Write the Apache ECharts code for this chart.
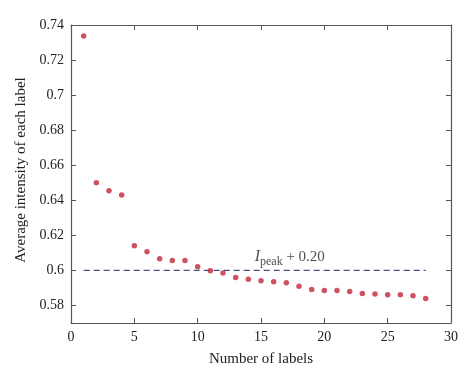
<!DOCTYPE html>
<html><head><meta charset="utf-8">
<script src="https://cdn.jsdelivr.net/npm/echarts@6/dist/echarts.min.js"></script>
<style>html,body{margin:0;padding:0;background:#fff}#c{width:474px;height:385px}</style>
</head><body><div id="c"></div>
<script>
const xLabels = [1,2,3,4,5,6,7,8,9,10,11,12,13,14,15,16,17,18,19,20,21,22,23,24,25,26,27,28];
const intensity = [0.7337,0.6500,0.6455,0.6430,0.6141,0.6107,0.6067,0.6057,0.6057,0.6021,0.5998,0.5985,0.5960,0.5950,0.5941,0.5935,0.5930,0.5910,0.5891,0.5886,0.5886,0.5880,0.5869,0.5865,0.5861,0.5861,0.5855,0.5840];
const thresholdX = [1, 28];
const thresholdY = 0.60;
const yTicks = [0.58,0.60,0.62,0.64,0.66,0.68,0.70,0.72,0.74];
const xTicks = [0,5,10,15,20,25,30];
const annotation = {x: 14.5, y: 0.6086, text: '+ 0.20'};

const font = '"Liberation Serif", "DejaVu Serif", serif';
const axisCol = '#555';
const txtCol = '#222';

const chart = echarts.init(document.getElementById('c'));
const common = {
  axisLine: {show: true, onZero: false, lineStyle: {color: axisCol, width: 1.2}},
  splitLine: {show: false}
};
chart.setOption({
  animation: false,
  backgroundColor: '#fff',
  grid: {left: 71, right: 23, top: 25, bottom: 62, outerBoundsMode: 'none', containLabel: false},
  xAxis: [
    Object.assign({
      type: 'value', min: xTicks[0], max: xTicks[xTicks.length-1], interval: 5,
      name: 'Number of labels', nameLocation: 'middle', nameGap: 29,
      nameTextStyle: {fontFamily: font, fontSize: 15, color: txtCol},
      axisTick: {show: true, inside: true, length: 5, lineStyle: {color: axisCol}},
      axisLabel: {fontFamily: font, fontSize: 14, color: txtCol, margin: 7}
    }, common),
    Object.assign({
      type: 'value', position: 'top', min: xTicks[0], max: xTicks[xTicks.length-1], interval: 5,
      axisTick: {show: true, inside: true, length: 5, lineStyle: {color: axisCol}},
      axisLabel: {show: false}
    }, common)
  ],
  yAxis: [
    Object.assign({
      type: 'value', min: 0.57, max: 0.74,
      name: 'Average intensity of each label', nameLocation: 'middle', nameGap: 31,
      nameTextStyle: {fontFamily: font, fontSize: 15, color: txtCol, padding: [0,0,0,8]},
      axisTick: {show: true, inside: true, length: 5, customValues: yTicks, lineStyle: {color: axisCol}},
      axisLabel: {fontFamily: font, fontSize: 14, color: txtCol, margin: 7, customValues: yTicks,
        formatter: v => String(+v.toFixed(2))}
    }, common),
    Object.assign({
      type: 'value', position: 'right', min: 0.57, max: 0.74,
      axisTick: {show: true, inside: true, length: 5, customValues: yTicks, lineStyle: {color: axisCol}},
      axisLabel: {show: false}
    }, common)
  ],
  series: [
    {
      type: 'line', data: thresholdX.map(x => [x, thresholdY]), symbol: 'none',
      lineStyle: {color: '#4a4f86', width: 1.3, type: [6, 4]}, silent: true, z: 2
    },
    {
      type: 'scatter', data: xLabels.map((x, i) => [x, intensity[i]]),
      symbol: 'circle', symbolSize: 5.5, itemStyle: {color: '#c1283a'}, z: 3
    },
    {
      type: 'scatter', data: [[annotation.x, annotation.y]], symbolSize: 0, silent: true,
      label: {
        show: true, position: 'right', distance: 0,
        formatter: '{i|I}{s|peak}{n| ' + annotation.text + '}',
        rich: {
          i: {fontFamily: font, fontSize: 16, fontStyle: 'italic', color: txtCol, verticalAlign: 'bottom', lineHeight: 18},
          s: {fontFamily: font, fontSize: 12, color: txtCol, verticalAlign: 'bottom', lineHeight: 18, padding: [0,0,-4,0]},
          n: {fontFamily: font, fontSize: 15, color: txtCol, verticalAlign: 'bottom', lineHeight: 18}
        }
      }
    }
  ]
});
</script></body></html>
